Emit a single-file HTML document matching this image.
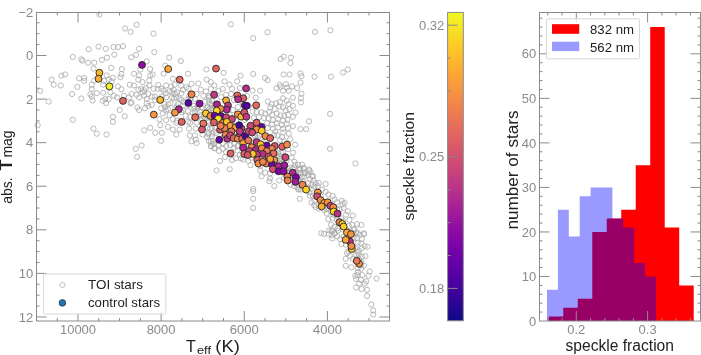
<!DOCTYPE html>
<html><head><meta charset="utf-8"><style>
html,body{margin:0;padding:0;background:#fff;}
svg{display:block;font-family:"Liberation Sans", sans-serif;will-change:transform;}
</style></head><body>
<svg width="701" height="355" viewBox="0 0 701 355">
<rect width="701" height="355" fill="#fff"/>
<g fill="none" stroke="#a8a8a8" stroke-width="0.8"><circle cx="88.7" cy="49.2" r="2.6"/><circle cx="72.8" cy="57.0" r="2.6"/><circle cx="81.3" cy="59.3" r="2.6"/><circle cx="82.5" cy="60.7" r="2.6"/><circle cx="88.1" cy="62.7" r="2.6"/><circle cx="94.3" cy="62.7" r="2.6"/><circle cx="93.5" cy="68.6" r="2.6"/><circle cx="99.4" cy="14.5" r="2.6"/><circle cx="136.6" cy="24.7" r="2.6"/><circle cx="125.1" cy="28.4" r="2.6"/><circle cx="130.6" cy="31.9" r="2.6"/><circle cx="153.5" cy="33.6" r="2.6"/><circle cx="98.5" cy="46.6" r="2.6"/><circle cx="105.8" cy="48.8" r="2.6"/><circle cx="113.4" cy="47.0" r="2.6"/><circle cx="118.0" cy="47.0" r="2.6"/><circle cx="123.0" cy="46.1" r="2.6"/><circle cx="139.1" cy="48.8" r="2.6"/><circle cx="154.3" cy="52.2" r="2.6"/><circle cx="136.1" cy="54.8" r="2.6"/><circle cx="131.2" cy="57.3" r="2.6"/><circle cx="114.3" cy="54.6" r="2.6"/><circle cx="107.0" cy="57.6" r="2.6"/><circle cx="101.9" cy="59.8" r="2.6"/><circle cx="146.7" cy="61.5" r="2.6"/><circle cx="111.2" cy="67.8" r="2.6"/><circle cx="121.9" cy="69.1" r="2.6"/><circle cx="150.1" cy="69.0" r="2.6"/><circle cx="140.3" cy="69.5" r="2.6"/><circle cx="169.2" cy="57.6" r="2.6"/><circle cx="180.8" cy="61.0" r="2.6"/><circle cx="165.3" cy="65.7" r="2.6"/><circle cx="206.4" cy="69.5" r="2.6"/><circle cx="230.9" cy="24.3" r="2.6"/><circle cx="267.5" cy="32.3" r="2.6"/><circle cx="253.2" cy="38.2" r="2.6"/><circle cx="314.9" cy="31.9" r="2.6"/><circle cx="330.4" cy="30.3" r="2.6"/><circle cx="280.7" cy="59.0" r="2.6"/><circle cx="283.6" cy="56.8" r="2.6"/><circle cx="290.9" cy="57.6" r="2.6"/><circle cx="290.4" cy="63.0" r="2.6"/><circle cx="347.8" cy="69.5" r="2.6"/><circle cx="61.4" cy="75.7" r="2.6"/><circle cx="65.1" cy="74.5" r="2.6"/><circle cx="51.7" cy="79.6" r="2.6"/><circle cx="53.7" cy="84.7" r="2.6"/><circle cx="60.8" cy="85.5" r="2.6"/><circle cx="40.2" cy="90.9" r="2.6"/><circle cx="48.7" cy="101.6" r="2.6"/><circle cx="72.0" cy="94.0" r="2.6"/><circle cx="81.3" cy="98.5" r="2.6"/><circle cx="77.4" cy="86.9" r="2.6"/><circle cx="79.1" cy="78.3" r="2.6"/><circle cx="84.2" cy="77.9" r="2.6"/><circle cx="84.2" cy="80.8" r="2.6"/><circle cx="91.8" cy="84.7" r="2.6"/><circle cx="91.8" cy="88.9" r="2.6"/><circle cx="90.4" cy="94.3" r="2.6"/><circle cx="91.8" cy="96.5" r="2.6"/><circle cx="92.6" cy="100.4" r="2.6"/><circle cx="94.3" cy="80.5" r="2.6"/><circle cx="72.8" cy="119.8" r="2.6"/><circle cx="37.7" cy="125.2" r="2.6"/><circle cx="93.5" cy="128.6" r="2.6"/><circle cx="106.6" cy="75.4" r="2.6"/><circle cx="112.9" cy="77.9" r="2.6"/><circle cx="108.7" cy="79.6" r="2.6"/><circle cx="104.0" cy="80.9" r="2.6"/><circle cx="103.2" cy="84.7" r="2.6"/><circle cx="111.6" cy="81.3" r="2.6"/><circle cx="121.4" cy="74.1" r="2.6"/><circle cx="120.5" cy="77.1" r="2.6"/><circle cx="118.0" cy="86.4" r="2.6"/><circle cx="121.4" cy="89.3" r="2.6"/><circle cx="103.2" cy="92.7" r="2.6"/><circle cx="96.8" cy="93.1" r="2.6"/><circle cx="110.4" cy="92.3" r="2.6"/><circle cx="113.8" cy="95.7" r="2.6"/><circle cx="117.1" cy="97.4" r="2.6"/><circle cx="105.3" cy="99.1" r="2.6"/><circle cx="108.7" cy="99.1" r="2.6"/><circle cx="123.9" cy="95.7" r="2.6"/><circle cx="134.0" cy="73.7" r="2.6"/><circle cx="139.1" cy="75.4" r="2.6"/><circle cx="138.3" cy="79.6" r="2.6"/><circle cx="142.5" cy="82.1" r="2.6"/><circle cx="150.1" cy="75.4" r="2.6"/><circle cx="152.6" cy="74.5" r="2.6"/><circle cx="149.2" cy="80.5" r="2.6"/><circle cx="129.8" cy="84.7" r="2.6"/><circle cx="134.0" cy="85.5" r="2.6"/><circle cx="145.9" cy="88.1" r="2.6"/><circle cx="153.5" cy="88.9" r="2.6"/><circle cx="138.3" cy="89.7" r="2.6"/><circle cx="142.5" cy="92.3" r="2.6"/><circle cx="131.5" cy="94.0" r="2.6"/><circle cx="129.0" cy="97.4" r="2.6"/><circle cx="136.6" cy="94.8" r="2.6"/><circle cx="139.1" cy="97.4" r="2.6"/><circle cx="144.2" cy="95.7" r="2.6"/><circle cx="148.4" cy="94.0" r="2.6"/><circle cx="151.8" cy="96.5" r="2.6"/><circle cx="146.7" cy="99.0" r="2.6"/><circle cx="155.2" cy="99.9" r="2.6"/><circle cx="102.8" cy="100.7" r="2.6"/><circle cx="106.1" cy="103.0" r="2.6"/><circle cx="131.5" cy="102.4" r="2.6"/><circle cx="119.7" cy="110.0" r="2.6"/><circle cx="124.7" cy="116.3" r="2.6"/><circle cx="112.9" cy="116.8" r="2.6"/><circle cx="112.9" cy="121.9" r="2.6"/><circle cx="137.4" cy="107.5" r="2.6"/><circle cx="139.1" cy="110.0" r="2.6"/><circle cx="146.7" cy="103.3" r="2.6"/><circle cx="148.4" cy="105.8" r="2.6"/><circle cx="145.0" cy="108.3" r="2.6"/><circle cx="151.8" cy="105.0" r="2.6"/><circle cx="130.6" cy="103.3" r="2.6"/><circle cx="150.1" cy="127.8" r="2.6"/><circle cx="144.2" cy="130.3" r="2.6"/><circle cx="163.6" cy="73.7" r="2.6"/><circle cx="172.9" cy="78.8" r="2.6"/><circle cx="188.1" cy="73.7" r="2.6"/><circle cx="206.7" cy="79.6" r="2.6"/><circle cx="210.9" cy="82.1" r="2.6"/><circle cx="191.5" cy="83.8" r="2.6"/><circle cx="198.3" cy="83.5" r="2.6"/><circle cx="157.7" cy="88.9" r="2.6"/><circle cx="166.1" cy="85.5" r="2.6"/><circle cx="171.2" cy="86.4" r="2.6"/><circle cx="174.6" cy="84.7" r="2.6"/><circle cx="186.4" cy="87.2" r="2.6"/><circle cx="163.6" cy="90.6" r="2.6"/><circle cx="169.5" cy="91.4" r="2.6"/><circle cx="177.1" cy="92.3" r="2.6"/><circle cx="181.4" cy="93.1" r="2.6"/><circle cx="183.0" cy="89.7" r="2.6"/><circle cx="200.8" cy="89.7" r="2.6"/><circle cx="205.9" cy="91.4" r="2.6"/><circle cx="210.9" cy="88.9" r="2.6"/><circle cx="214.3" cy="85.5" r="2.6"/><circle cx="196.6" cy="94.0" r="2.6"/><circle cx="203.3" cy="95.7" r="2.6"/><circle cx="209.2" cy="97.4" r="2.6"/><circle cx="166.1" cy="97.4" r="2.6"/><circle cx="172.1" cy="97.4" r="2.6"/><circle cx="176.3" cy="97.4" r="2.6"/><circle cx="181.4" cy="99.9" r="2.6"/><circle cx="194.9" cy="99.0" r="2.6"/><circle cx="205.0" cy="101.6" r="2.6"/><circle cx="210.1" cy="103.3" r="2.6"/><circle cx="164.5" cy="104.1" r="2.6"/><circle cx="170.4" cy="103.3" r="2.6"/><circle cx="178.0" cy="104.1" r="2.6"/><circle cx="183.0" cy="105.8" r="2.6"/><circle cx="194.0" cy="105.8" r="2.6"/><circle cx="201.6" cy="107.5" r="2.6"/><circle cx="206.7" cy="107.5" r="2.6"/><circle cx="211.8" cy="108.3" r="2.6"/><circle cx="161.1" cy="108.3" r="2.6"/><circle cx="167.8" cy="109.2" r="2.6"/><circle cx="188.1" cy="110.9" r="2.6"/><circle cx="194.9" cy="111.7" r="2.6"/><circle cx="199.9" cy="111.7" r="2.6"/><circle cx="162.8" cy="113.4" r="2.6"/><circle cx="169.5" cy="115.1" r="2.6"/><circle cx="185.6" cy="115.9" r="2.6"/><circle cx="190.6" cy="116.8" r="2.6"/><circle cx="159.4" cy="119.3" r="2.6"/><circle cx="166.1" cy="120.2" r="2.6"/><circle cx="172.9" cy="119.3" r="2.6"/><circle cx="176.3" cy="122.7" r="2.6"/><circle cx="188.1" cy="121.9" r="2.6"/><circle cx="196.6" cy="122.7" r="2.6"/><circle cx="208.4" cy="122.7" r="2.6"/><circle cx="160.2" cy="125.2" r="2.6"/><circle cx="167.8" cy="126.9" r="2.6"/><circle cx="172.9" cy="129.5" r="2.6"/><circle cx="189.0" cy="128.6" r="2.6"/><circle cx="195.7" cy="128.6" r="2.6"/><circle cx="210.1" cy="128.6" r="2.6"/><circle cx="179.7" cy="129.5" r="2.6"/><circle cx="223.6" cy="72.8" r="2.6"/><circle cx="240.5" cy="75.7" r="2.6"/><circle cx="253.2" cy="74.0" r="2.6"/><circle cx="265.0" cy="77.9" r="2.6"/><circle cx="267.5" cy="80.1" r="2.6"/><circle cx="224.5" cy="81.3" r="2.6"/><circle cx="229.5" cy="84.7" r="2.6"/><circle cx="237.1" cy="81.3" r="2.6"/><circle cx="218.5" cy="90.6" r="2.6"/><circle cx="222.8" cy="88.9" r="2.6"/><circle cx="232.1" cy="88.9" r="2.6"/><circle cx="226.1" cy="94.8" r="2.6"/><circle cx="283.6" cy="74.5" r="2.6"/><circle cx="289.5" cy="74.5" r="2.6"/><circle cx="300.5" cy="73.4" r="2.6"/><circle cx="301.4" cy="76.2" r="2.6"/><circle cx="314.5" cy="76.7" r="2.6"/><circle cx="330.9" cy="76.7" r="2.6"/><circle cx="300.5" cy="82.5" r="2.6"/><circle cx="279.7" cy="84.7" r="2.6"/><circle cx="286.1" cy="84.2" r="2.6"/><circle cx="292.1" cy="86.4" r="2.6"/><circle cx="297.1" cy="88.1" r="2.6"/><circle cx="301.4" cy="93.6" r="2.6"/><circle cx="301.0" cy="98.2" r="2.6"/><circle cx="301.0" cy="102.4" r="2.6"/><circle cx="292.9" cy="97.7" r="2.6"/><circle cx="292.9" cy="105.8" r="2.6"/><circle cx="295.4" cy="112.6" r="2.6"/><circle cx="292.9" cy="116.8" r="2.6"/><circle cx="292.9" cy="126.1" r="2.6"/><circle cx="330.1" cy="113.9" r="2.6"/><circle cx="309.0" cy="121.3" r="2.6"/><circle cx="300.5" cy="129.1" r="2.6"/><circle cx="306.1" cy="129.1" r="2.6"/><circle cx="343.0" cy="72.5" r="2.6"/><circle cx="209.0" cy="96.0" r="2.6"/><circle cx="212.0" cy="101.0" r="2.6"/><circle cx="221.0" cy="97.0" r="2.6"/><circle cx="231.0" cy="94.0" r="2.6"/><circle cx="234.0" cy="100.0" r="2.6"/><circle cx="243.0" cy="104.0" r="2.6"/><circle cx="208.0" cy="107.0" r="2.6"/><circle cx="213.0" cy="110.0" r="2.6"/><circle cx="223.0" cy="113.0" r="2.6"/><circle cx="233.0" cy="110.0" r="2.6"/><circle cx="238.0" cy="107.0" r="2.6"/><circle cx="208.0" cy="121.0" r="2.6"/><circle cx="218.0" cy="124.0" r="2.6"/><circle cx="230.0" cy="115.0" r="2.6"/><circle cx="236.0" cy="121.0" r="2.6"/><circle cx="245.0" cy="120.0" r="2.6"/><circle cx="212.0" cy="128.0" r="2.6"/><circle cx="228.0" cy="130.0" r="2.6"/><circle cx="246.0" cy="131.0" r="2.6"/><circle cx="249.0" cy="106.0" r="2.6"/><circle cx="240.0" cy="88.0" r="2.6"/><circle cx="247.0" cy="96.0" r="2.6"/><circle cx="96.8" cy="133.7" r="2.6"/><circle cx="106.5" cy="134.5" r="2.6"/><circle cx="141.6" cy="145.5" r="2.6"/><circle cx="135.7" cy="148.9" r="2.6"/><circle cx="137.1" cy="156.8" r="2.6"/><circle cx="155.2" cy="132.8" r="2.6"/><circle cx="161.9" cy="132.8" r="2.6"/><circle cx="161.1" cy="140.8" r="2.6"/><circle cx="176.3" cy="134.5" r="2.6"/><circle cx="189.8" cy="135.4" r="2.6"/><circle cx="194.9" cy="135.4" r="2.6"/><circle cx="195.7" cy="139.6" r="2.6"/><circle cx="191.5" cy="141.3" r="2.6"/><circle cx="196.6" cy="143.0" r="2.6"/><circle cx="202.5" cy="134.5" r="2.6"/><circle cx="208.4" cy="134.5" r="2.6"/><circle cx="211.8" cy="136.2" r="2.6"/><circle cx="210.9" cy="141.3" r="2.6"/><circle cx="212.6" cy="143.8" r="2.6"/><circle cx="210.9" cy="146.4" r="2.6"/><circle cx="214.3" cy="148.1" r="2.6"/><circle cx="216.6" cy="170.4" r="2.6"/><circle cx="208.3" cy="133.1" r="2.6"/><circle cx="212.2" cy="133.6" r="2.6"/><circle cx="212.8" cy="141.0" r="2.6"/><circle cx="211.1" cy="146.0" r="2.6"/><circle cx="215.0" cy="148.3" r="2.6"/><circle cx="214.5" cy="143.8" r="2.6"/><circle cx="218.4" cy="144.9" r="2.6"/><circle cx="222.9" cy="143.2" r="2.6"/><circle cx="222.9" cy="148.8" r="2.6"/><circle cx="226.3" cy="146.0" r="2.6"/><circle cx="230.2" cy="144.9" r="2.6"/><circle cx="234.2" cy="143.8" r="2.6"/><circle cx="234.2" cy="147.7" r="2.6"/><circle cx="237.5" cy="146.0" r="2.6"/><circle cx="237.5" cy="150.5" r="2.6"/><circle cx="239.8" cy="155.0" r="2.6"/><circle cx="235.9" cy="158.4" r="2.6"/><circle cx="240.9" cy="158.4" r="2.6"/><circle cx="243.2" cy="159.5" r="2.6"/><circle cx="229.7" cy="169.2" r="2.6"/><circle cx="207.1" cy="137.0" r="2.6"/><circle cx="216.1" cy="133.1" r="2.6"/><circle cx="208.8" cy="141.0" r="2.6"/><circle cx="219.0" cy="151.0" r="2.6"/><circle cx="226.0" cy="152.0" r="2.6"/><circle cx="232.0" cy="160.0" r="2.6"/><circle cx="225.0" cy="157.0" r="2.6"/><circle cx="220.0" cy="161.0" r="2.6"/><circle cx="275.3" cy="131.4" r="2.6"/><circle cx="283.2" cy="132.5" r="2.6"/><circle cx="277.5" cy="135.3" r="2.6"/><circle cx="282.1" cy="137.0" r="2.6"/><circle cx="274.2" cy="134.8" r="2.6"/><circle cx="279.8" cy="140.4" r="2.6"/><circle cx="284.3" cy="141.5" r="2.6"/><circle cx="255.0" cy="135.9" r="2.6"/><circle cx="259.5" cy="134.8" r="2.6"/><circle cx="281.5" cy="152.8" r="2.6"/><circle cx="279.8" cy="159.0" r="2.6"/><circle cx="283.7" cy="159.5" r="2.6"/><circle cx="283.2" cy="152.2" r="2.6"/><circle cx="248.3" cy="160.7" r="2.6"/><circle cx="250.5" cy="165.2" r="2.6"/><circle cx="295.2" cy="144.6" r="2.6"/><circle cx="330.0" cy="148.8" r="2.6"/><circle cx="288.8" cy="133.6" r="2.6"/><circle cx="290.2" cy="139.3" r="2.6"/><circle cx="288.1" cy="149.1" r="2.6"/><circle cx="293.0" cy="152.6" r="2.6"/><circle cx="291.6" cy="157.6" r="2.6"/><circle cx="294.5" cy="161.8" r="2.6"/><circle cx="298.0" cy="164.6" r="2.6"/><circle cx="302.2" cy="164.6" r="2.6"/><circle cx="303.6" cy="168.8" r="2.6"/><circle cx="309.2" cy="169.5" r="2.6"/><circle cx="310.6" cy="172.4" r="2.6"/><circle cx="305.7" cy="173.1" r="2.6"/><circle cx="300.1" cy="173.1" r="2.6"/><circle cx="312.1" cy="175.9" r="2.6"/><circle cx="304.3" cy="176.6" r="2.6"/><circle cx="298.7" cy="168.8" r="2.6"/><circle cx="355.4" cy="163.5" r="2.6"/><circle cx="253.2" cy="188.9" r="2.6"/><circle cx="253.2" cy="191.1" r="2.6"/><circle cx="253.2" cy="198.8" r="2.6"/><circle cx="253.2" cy="208.0" r="2.6"/><circle cx="260.2" cy="170.6" r="2.6"/><circle cx="265.2" cy="172.7" r="2.6"/><circle cx="270.1" cy="173.5" r="2.6"/><circle cx="270.1" cy="178.4" r="2.6"/><circle cx="269.4" cy="181.2" r="2.6"/><circle cx="279.2" cy="180.5" r="2.6"/><circle cx="274.3" cy="186.1" r="2.6"/><circle cx="290.5" cy="184.7" r="2.6"/><circle cx="294.0" cy="186.1" r="2.6"/><circle cx="298.3" cy="189.6" r="2.6"/><circle cx="299.7" cy="198.8" r="2.6"/><circle cx="261.6" cy="176.3" r="2.6"/><circle cx="299.7" cy="169.9" r="2.6"/><circle cx="303.2" cy="173.5" r="2.6"/><circle cx="298.3" cy="176.3" r="2.6"/><circle cx="299.7" cy="181.2" r="2.6"/><circle cx="290.5" cy="179.8" r="2.6"/><circle cx="284.2" cy="177.7" r="2.6"/><circle cx="300.2" cy="168.5" r="2.6"/><circle cx="303.7" cy="167.8" r="2.6"/><circle cx="309.4" cy="170.6" r="2.6"/><circle cx="304.5" cy="172.7" r="2.6"/><circle cx="308.0" cy="174.9" r="2.6"/><circle cx="312.9" cy="176.3" r="2.6"/><circle cx="310.1" cy="179.1" r="2.6"/><circle cx="313.6" cy="180.5" r="2.6"/><circle cx="315.7" cy="183.3" r="2.6"/><circle cx="311.5" cy="184.7" r="2.6"/><circle cx="317.8" cy="186.1" r="2.6"/><circle cx="325.6" cy="184.0" r="2.6"/><circle cx="298.8" cy="188.9" r="2.6"/><circle cx="311.5" cy="188.9" r="2.6"/><circle cx="309.4" cy="192.5" r="2.6"/><circle cx="322.1" cy="189.6" r="2.6"/><circle cx="325.6" cy="191.8" r="2.6"/><circle cx="328.4" cy="194.6" r="2.6"/><circle cx="332.6" cy="196.0" r="2.6"/><circle cx="334.7" cy="199.5" r="2.6"/><circle cx="336.8" cy="202.3" r="2.6"/><circle cx="341.8" cy="200.9" r="2.6"/><circle cx="342.5" cy="204.4" r="2.6"/><circle cx="312.9" cy="196.0" r="2.6"/><circle cx="311.5" cy="202.3" r="2.6"/><circle cx="314.3" cy="205.1" r="2.6"/><circle cx="324.2" cy="210.1" r="2.6"/><circle cx="328.4" cy="208.7" r="2.6"/><circle cx="339.7" cy="209.4" r="2.6"/><circle cx="344.5" cy="202.9" r="2.6"/><circle cx="343.6" cy="208.0" r="2.6"/><circle cx="347.8" cy="211.3" r="2.6"/><circle cx="346.1" cy="214.7" r="2.6"/><circle cx="352.9" cy="215.6" r="2.6"/><circle cx="349.5" cy="219.8" r="2.6"/><circle cx="352.1" cy="224.9" r="2.6"/><circle cx="357.1" cy="224.0" r="2.6"/><circle cx="361.4" cy="224.9" r="2.6"/><circle cx="354.6" cy="229.1" r="2.6"/><circle cx="363.9" cy="233.3" r="2.6"/><circle cx="358.0" cy="233.3" r="2.6"/><circle cx="337.7" cy="228.2" r="2.6"/><circle cx="331.6" cy="230.6" r="2.6"/><circle cx="328.8" cy="234.2" r="2.6"/><circle cx="334.5" cy="233.5" r="2.6"/><circle cx="338.0" cy="230.6" r="2.6"/><circle cx="332.3" cy="238.4" r="2.6"/><circle cx="337.3" cy="236.3" r="2.6"/><circle cx="340.1" cy="239.1" r="2.6"/><circle cx="341.5" cy="244.0" r="2.6"/><circle cx="345.7" cy="244.7" r="2.6"/><circle cx="353.5" cy="229.9" r="2.6"/><circle cx="356.3" cy="232.7" r="2.6"/><circle cx="359.8" cy="234.9" r="2.6"/><circle cx="364.0" cy="234.2" r="2.6"/><circle cx="361.9" cy="239.1" r="2.6"/><circle cx="357.0" cy="238.4" r="2.6"/><circle cx="357.7" cy="242.6" r="2.6"/><circle cx="361.2" cy="243.3" r="2.6"/><circle cx="364.7" cy="246.1" r="2.6"/><circle cx="367.5" cy="246.8" r="2.6"/><circle cx="355.6" cy="248.2" r="2.6"/><circle cx="357.7" cy="252.5" r="2.6"/><circle cx="347.1" cy="253.2" r="2.6"/><circle cx="349.9" cy="256.0" r="2.6"/><circle cx="352.8" cy="258.8" r="2.6"/><circle cx="345.7" cy="258.8" r="2.6"/><circle cx="361.9" cy="256.7" r="2.6"/><circle cx="345.7" cy="265.8" r="2.6"/><circle cx="351.4" cy="267.3" r="2.6"/><circle cx="361.2" cy="268.7" r="2.6"/><circle cx="364.0" cy="265.8" r="2.6"/><circle cx="369.7" cy="271.5" r="2.6"/><circle cx="357.7" cy="272.2" r="2.6"/><circle cx="357.7" cy="268.1" r="2.6"/><circle cx="368.5" cy="275.8" r="2.6"/><circle cx="376.6" cy="278.6" r="2.6"/><circle cx="355.4" cy="275.8" r="2.6"/><circle cx="357.7" cy="275.1" r="2.6"/><circle cx="362.3" cy="275.1" r="2.6"/><circle cx="356.1" cy="278.9" r="2.6"/><circle cx="360.8" cy="279.7" r="2.6"/><circle cx="366.2" cy="281.3" r="2.6"/><circle cx="359.2" cy="283.6" r="2.6"/><circle cx="364.7" cy="283.6" r="2.6"/><circle cx="356.1" cy="287.5" r="2.6"/><circle cx="361.6" cy="289.0" r="2.6"/><circle cx="367.0" cy="289.8" r="2.6"/><circle cx="367.0" cy="296.0" r="2.6"/><circle cx="371.3" cy="304.5" r="2.6"/><circle cx="373.2" cy="310.4" r="2.6"/><circle cx="373.2" cy="314.6" r="2.6"/><circle cx="326.8" cy="213.5" r="2.6"/><circle cx="328.3" cy="219.1" r="2.6"/><circle cx="332.5" cy="218.4" r="2.6"/><circle cx="331.1" cy="224.7" r="2.6"/><circle cx="334.6" cy="226.8" r="2.6"/><circle cx="329.0" cy="230.4" r="2.6"/><circle cx="332.5" cy="231.1" r="2.6"/><circle cx="321.2" cy="233.2" r="2.6"/><circle cx="324.0" cy="233.9" r="2.6"/><circle cx="331.8" cy="235.3" r="2.6"/><circle cx="334.6" cy="233.2" r="2.6"/><circle cx="276.7" cy="88.2" r="2.6"/><circle cx="280.5" cy="86.9" r="2.6"/><circle cx="283.0" cy="90.7" r="2.6"/><circle cx="286.8" cy="87.5" r="2.6"/><circle cx="288.7" cy="90.7" r="2.6"/><circle cx="260.2" cy="90.7" r="2.6"/><circle cx="252.6" cy="90.7" r="2.6"/><circle cx="255.8" cy="97.7" r="2.6"/><circle cx="267.8" cy="101.5" r="2.6"/><circle cx="271.6" cy="104.0" r="2.6"/><circle cx="276.0" cy="103.4" r="2.6"/><circle cx="279.9" cy="102.1" r="2.6"/><circle cx="283.0" cy="98.3" r="2.6"/><circle cx="286.8" cy="100.8" r="2.6"/><circle cx="288.7" cy="104.0" r="2.6"/><circle cx="270.3" cy="107.2" r="2.6"/><circle cx="274.8" cy="109.1" r="2.6"/><circle cx="279.2" cy="106.5" r="2.6"/><circle cx="283.0" cy="107.2" r="2.6"/><circle cx="285.6" cy="110.3" r="2.6"/><circle cx="289.4" cy="109.1" r="2.6"/><circle cx="252.6" cy="111.6" r="2.6"/><circle cx="256.4" cy="112.2" r="2.6"/><circle cx="261.5" cy="112.2" r="2.6"/><circle cx="265.3" cy="113.5" r="2.6"/><circle cx="269.1" cy="112.2" r="2.6"/><circle cx="272.2" cy="114.8" r="2.6"/><circle cx="276.7" cy="113.5" r="2.6"/><circle cx="280.5" cy="115.4" r="2.6"/><circle cx="284.3" cy="116.0" r="2.6"/><circle cx="288.1" cy="114.8" r="2.6"/><circle cx="253.9" cy="118.0" r="2.6"/><circle cx="258.9" cy="117.3" r="2.6"/><circle cx="264.0" cy="118.0" r="2.6"/><circle cx="268.4" cy="118.6" r="2.6"/><circle cx="272.9" cy="119.9" r="2.6"/><circle cx="278.0" cy="119.2" r="2.6"/><circle cx="283.0" cy="120.5" r="2.6"/><circle cx="287.5" cy="119.9" r="2.6"/><circle cx="267.2" cy="123.0" r="2.6"/><circle cx="272.2" cy="124.3" r="2.6"/><circle cx="276.7" cy="123.0" r="2.6"/><circle cx="281.8" cy="124.9" r="2.6"/><circle cx="286.8" cy="123.7" r="2.6"/><circle cx="267.8" cy="128.1" r="2.6"/><circle cx="272.9" cy="128.7" r="2.6"/><circle cx="278.0" cy="127.5" r="2.6"/><circle cx="283.0" cy="128.7" r="2.6"/><circle cx="288.1" cy="128.1" r="2.6"/><circle cx="155.0" cy="96.6" r="2.6"/><circle cx="161.3" cy="88.7" r="2.6"/><circle cx="149.4" cy="85.3" r="2.6"/><circle cx="165.9" cy="93.3" r="2.6"/><circle cx="158.2" cy="84.9" r="2.6"/><circle cx="141.2" cy="89.1" r="2.6"/><circle cx="144.1" cy="90.3" r="2.6"/><circle cx="161.9" cy="96.7" r="2.6"/><circle cx="194.4" cy="108.6" r="2.6"/><circle cx="190.1" cy="122.9" r="2.6"/><circle cx="189.2" cy="95.9" r="2.6"/><circle cx="177.0" cy="106.4" r="2.6"/><circle cx="168.3" cy="104.2" r="2.6"/><circle cx="187.5" cy="99.7" r="2.6"/><circle cx="188.6" cy="101.9" r="2.6"/><circle cx="173.7" cy="89.9" r="2.6"/><circle cx="173.9" cy="98.6" r="2.6"/><circle cx="165.1" cy="107.1" r="2.6"/><circle cx="174.8" cy="93.7" r="2.6"/><circle cx="181.1" cy="85.8" r="2.6"/><circle cx="188.4" cy="104.9" r="2.6"/><circle cx="192.7" cy="113.0" r="2.6"/><circle cx="197.6" cy="106.1" r="2.6"/><circle cx="165.8" cy="110.6" r="2.6"/><circle cx="179.4" cy="98.5" r="2.6"/><circle cx="181.3" cy="112.0" r="2.6"/><circle cx="190.5" cy="98.9" r="2.6"/><circle cx="177.1" cy="120.6" r="2.6"/><circle cx="183.7" cy="102.2" r="2.6"/><circle cx="197.9" cy="108.6" r="2.6"/><circle cx="172.2" cy="92.2" r="2.6"/><circle cx="188.5" cy="88.7" r="2.6"/><circle cx="175.3" cy="108.1" r="2.6"/><circle cx="182.9" cy="110.2" r="2.6"/><circle cx="214.5" cy="106.0" r="2.6"/><circle cx="207.6" cy="127.5" r="2.6"/><circle cx="216.5" cy="118.7" r="2.6"/><circle cx="230.5" cy="122.5" r="2.6"/><circle cx="219.5" cy="118.4" r="2.6"/><circle cx="232.4" cy="121.3" r="2.6"/><circle cx="213.5" cy="117.7" r="2.6"/><circle cx="225.4" cy="124.3" r="2.6"/><circle cx="221.5" cy="124.4" r="2.6"/><circle cx="211.2" cy="114.8" r="2.6"/><circle cx="209.4" cy="109.0" r="2.6"/><circle cx="223.9" cy="128.7" r="2.6"/><circle cx="220.2" cy="110.9" r="2.6"/><circle cx="222.2" cy="119.5" r="2.6"/><circle cx="226.1" cy="133.3" r="2.6"/><circle cx="203.6" cy="116.5" r="2.6"/><circle cx="229.0" cy="119.4" r="2.6"/><circle cx="204.7" cy="119.2" r="2.6"/><circle cx="213.9" cy="132.0" r="2.6"/><circle cx="202.2" cy="119.2" r="2.6"/><circle cx="197.5" cy="116.4" r="2.6"/><circle cx="223.3" cy="137.4" r="2.6"/><circle cx="208.7" cy="100.3" r="2.6"/><circle cx="215.5" cy="127.4" r="2.6"/><circle cx="218.0" cy="103.4" r="2.6"/><circle cx="223.7" cy="126.2" r="2.6"/><circle cx="212.2" cy="104.5" r="2.6"/><circle cx="222.9" cy="117.1" r="2.6"/><circle cx="200.8" cy="115.1" r="2.6"/><circle cx="226.6" cy="122.3" r="2.6"/><circle cx="225.1" cy="119.3" r="2.6"/><circle cx="211.1" cy="118.1" r="2.6"/><circle cx="246.1" cy="148.9" r="2.6"/><circle cx="248.9" cy="126.2" r="2.6"/><circle cx="252.7" cy="131.0" r="2.6"/><circle cx="239.8" cy="131.3" r="2.6"/><circle cx="256.3" cy="139.4" r="2.6"/><circle cx="252.7" cy="145.5" r="2.6"/><circle cx="233.9" cy="132.9" r="2.6"/><circle cx="230.4" cy="134.6" r="2.6"/><circle cx="241.7" cy="129.9" r="2.6"/><circle cx="257.1" cy="143.4" r="2.6"/><circle cx="240.1" cy="127.0" r="2.6"/><circle cx="256.5" cy="147.6" r="2.6"/><circle cx="245.8" cy="152.6" r="2.6"/><circle cx="253.3" cy="142.3" r="2.6"/><circle cx="253.6" cy="148.3" r="2.6"/><circle cx="240.3" cy="138.7" r="2.6"/><circle cx="245.3" cy="140.8" r="2.6"/><circle cx="236.7" cy="132.4" r="2.6"/><circle cx="242.1" cy="146.7" r="2.6"/><circle cx="257.0" cy="154.4" r="2.6"/><circle cx="243.5" cy="138.6" r="2.6"/><circle cx="244.8" cy="135.2" r="2.6"/><circle cx="242.4" cy="136.6" r="2.6"/><circle cx="257.9" cy="137.6" r="2.6"/><circle cx="237.5" cy="128.4" r="2.6"/><circle cx="238.6" cy="125.1" r="2.6"/><circle cx="260.6" cy="148.3" r="2.6"/><circle cx="251.2" cy="157.7" r="2.6"/><circle cx="226.2" cy="139.4" r="2.6"/><circle cx="254.9" cy="150.4" r="2.6"/><circle cx="246.2" cy="137.1" r="2.6"/><circle cx="250.8" cy="142.4" r="2.6"/><circle cx="247.8" cy="154.7" r="2.6"/><circle cx="262.6" cy="142.3" r="2.6"/><circle cx="282.1" cy="172.1" r="2.6"/><circle cx="278.2" cy="153.2" r="2.6"/><circle cx="285.0" cy="165.7" r="2.6"/><circle cx="260.4" cy="165.7" r="2.6"/><circle cx="264.3" cy="148.0" r="2.6"/><circle cx="271.8" cy="159.1" r="2.6"/><circle cx="277.9" cy="171.2" r="2.6"/><circle cx="279.9" cy="162.8" r="2.6"/><circle cx="264.6" cy="152.8" r="2.6"/><circle cx="279.6" cy="156.1" r="2.6"/><circle cx="284.0" cy="168.0" r="2.6"/><circle cx="269.6" cy="164.4" r="2.6"/><circle cx="278.9" cy="167.6" r="2.6"/><circle cx="268.2" cy="162.0" r="2.6"/><circle cx="283.4" cy="156.3" r="2.6"/><circle cx="266.4" cy="159.2" r="2.6"/><circle cx="275.7" cy="151.3" r="2.6"/><circle cx="258.5" cy="156.3" r="2.6"/><circle cx="277.3" cy="156.9" r="2.6"/><circle cx="277.5" cy="160.5" r="2.6"/><circle cx="262.9" cy="150.2" r="2.6"/><circle cx="269.9" cy="149.0" r="2.6"/><circle cx="281.8" cy="164.1" r="2.6"/><circle cx="273.1" cy="153.1" r="2.6"/><circle cx="278.7" cy="165.3" r="2.6"/><circle cx="286.3" cy="161.2" r="2.6"/><circle cx="275.7" cy="165.1" r="2.6"/><circle cx="272.9" cy="155.4" r="2.6"/><circle cx="269.8" cy="152.7" r="2.6"/><circle cx="266.5" cy="155.5" r="2.6"/><circle cx="289.9" cy="167.6" r="2.6"/><circle cx="287.7" cy="176.8" r="2.6"/><circle cx="308.4" cy="183.2" r="2.6"/><circle cx="301.8" cy="177.0" r="2.6"/><circle cx="296.1" cy="172.3" r="2.6"/><circle cx="297.1" cy="179.3" r="2.6"/><circle cx="297.1" cy="187.3" r="2.6"/><circle cx="292.8" cy="175.9" r="2.6"/><circle cx="290.2" cy="173.5" r="2.6"/><circle cx="303.0" cy="181.2" r="2.6"/><circle cx="304.2" cy="185.3" r="2.6"/><circle cx="294.9" cy="164.9" r="2.6"/><circle cx="300.6" cy="183.3" r="2.6"/><circle cx="289.7" cy="171.1" r="2.6"/><circle cx="287.3" cy="168.4" r="2.6"/><circle cx="292.8" cy="168.7" r="2.6"/><circle cx="284.9" cy="170.9" r="2.6"/><circle cx="294.6" cy="167.4" r="2.6"/><circle cx="294.4" cy="179.0" r="2.6"/><circle cx="304.3" cy="187.7" r="2.6"/><circle cx="308.8" cy="187.6" r="2.6"/><circle cx="301.0" cy="189.6" r="2.6"/><circle cx="333.2" cy="214.5" r="2.6"/><circle cx="310.0" cy="195.7" r="2.6"/><circle cx="318.7" cy="183.0" r="2.6"/><circle cx="337.0" cy="208.8" r="2.6"/><circle cx="327.1" cy="203.5" r="2.6"/><circle cx="328.0" cy="205.9" r="2.6"/><circle cx="318.7" cy="198.1" r="2.6"/><circle cx="314.4" cy="186.6" r="2.6"/><circle cx="326.1" cy="208.6" r="2.6"/><circle cx="331.0" cy="211.6" r="2.6"/><circle cx="320.7" cy="196.1" r="2.6"/><circle cx="314.4" cy="200.8" r="2.6"/><circle cx="334.1" cy="212.3" r="2.6"/><circle cx="317.2" cy="195.0" r="2.6"/><circle cx="332.4" cy="207.6" r="2.6"/><circle cx="321.3" cy="204.5" r="2.6"/><circle cx="318.8" cy="208.7" r="2.6"/><circle cx="315.6" cy="207.1" r="2.6"/><circle cx="341.0" cy="223.7" r="2.6"/><circle cx="343.8" cy="236.7" r="2.6"/><circle cx="349.5" cy="235.6" r="2.6"/><circle cx="353.6" cy="233.5" r="2.6"/><circle cx="348.9" cy="226.0" r="2.6"/><circle cx="342.5" cy="229.4" r="2.6"/><circle cx="340.1" cy="221.1" r="2.6"/><circle cx="341.3" cy="218.3" r="2.6"/><circle cx="347.8" cy="238.5" r="2.6"/><circle cx="343.3" cy="221.3" r="2.6"/><circle cx="346.2" cy="229.5" r="2.6"/><circle cx="336.8" cy="219.2" r="2.6"/><circle cx="342.8" cy="225.8" r="2.6"/><circle cx="353.6" cy="237.8" r="2.6"/><circle cx="337.7" cy="216.7" r="2.6"/><circle cx="350.9" cy="232.4" r="2.6"/><circle cx="359.1" cy="259.3" r="2.6"/><circle cx="356.8" cy="259.3" r="2.6"/><circle cx="348.3" cy="251.3" r="2.6"/><circle cx="361.0" cy="265.3" r="2.6"/><circle cx="358.9" cy="254.8" r="2.6"/><circle cx="356.1" cy="254.7" r="2.6"/><circle cx="361.2" cy="261.8" r="2.6"/><circle cx="350.4" cy="249.2" r="2.6"/><circle cx="358.9" cy="250.6" r="2.6"/><circle cx="353.2" cy="246.7" r="2.6"/><circle cx="361.5" cy="248.4" r="2.6"/><circle cx="365.4" cy="256.2" r="2.6"/></g>
<g stroke="#262626" stroke-width="0.9"><circle cx="142.0" cy="64.9" r="3.45" fill="#8f0da4"/><circle cx="168.2" cy="69.0" r="3.45" fill="#fca636"/><circle cx="216.0" cy="68.6" r="3.45" fill="#e16462"/><circle cx="99.4" cy="72.8" r="3.45" fill="#feb72d"/><circle cx="98.5" cy="78.8" r="3.45" fill="#fdae32"/><circle cx="109.4" cy="86.4" r="3.45" fill="#f3f027"/><circle cx="123.0" cy="100.9" r="3.45" fill="#e16462"/><circle cx="153.8" cy="114.6" r="3.45" fill="#f89540"/><circle cx="179.7" cy="79.6" r="3.45" fill="#e56a5d"/><circle cx="191.5" cy="94.3" r="3.45" fill="#f2844b"/><circle cx="160.2" cy="99.9" r="3.45" fill="#feba2c"/><circle cx="188.4" cy="102.9" r="3.45" fill="#5601a4"/><circle cx="199.6" cy="103.6" r="3.45" fill="#8f0da4"/><circle cx="178.8" cy="109.2" r="3.45" fill="#b12a90"/><circle cx="174.9" cy="112.6" r="3.45" fill="#f89540"/><circle cx="195.2" cy="117.3" r="3.45" fill="#e56a5d"/><circle cx="205.9" cy="113.4" r="3.45" fill="#fcce25"/><circle cx="210.4" cy="116.0" r="3.45" fill="#f58b47"/><circle cx="181.7" cy="121.9" r="3.45" fill="#e16462"/><circle cx="203.3" cy="123.5" r="3.45" fill="#ea7457"/><circle cx="202.0" cy="129.5" r="3.45" fill="#d6556d"/><circle cx="214.1" cy="94.8" r="3.45" fill="#bf3984"/><circle cx="237.3" cy="95.4" r="3.45" fill="#e56a5d"/><circle cx="243.2" cy="98.2" r="3.45" fill="#dd5e66"/><circle cx="238.1" cy="99.3" r="3.45" fill="#b6308b"/><circle cx="226.1" cy="100.5" r="3.45" fill="#fdae32"/><circle cx="216.9" cy="104.4" r="3.45" fill="#ab2494"/><circle cx="228.0" cy="105.5" r="3.45" fill="#bf3984"/><circle cx="226.8" cy="109.5" r="3.45" fill="#b12a90"/><circle cx="220.6" cy="108.9" r="3.45" fill="#f58b47"/><circle cx="216.7" cy="110.6" r="3.45" fill="#fbd724"/><circle cx="214.5" cy="115.7" r="3.45" fill="#6a00a8"/><circle cx="221.2" cy="116.2" r="3.45" fill="#7201a8"/><circle cx="218.2" cy="118.7" r="3.45" fill="#f7e425"/><circle cx="226.3" cy="117.4" r="3.45" fill="#d04d73"/><circle cx="231.9" cy="119.0" r="3.45" fill="#cc4778"/><circle cx="237.9" cy="114.3" r="3.45" fill="#f89540"/><circle cx="241.2" cy="116.6" r="3.45" fill="#feba2c"/><circle cx="244.3" cy="112.3" r="3.45" fill="#d6556d"/><circle cx="213.9" cy="122.4" r="3.45" fill="#dd5e66"/><circle cx="222.7" cy="123.0" r="3.45" fill="#f2844b"/><circle cx="226.8" cy="121.9" r="3.45" fill="#fdc627"/><circle cx="230.2" cy="125.8" r="3.45" fill="#fb9f3a"/><circle cx="235.5" cy="127.5" r="3.45" fill="#fb9f3a"/><circle cx="241.5" cy="128.6" r="3.45" fill="#cc4778"/><circle cx="239.2" cy="125.2" r="3.45" fill="#41049d"/><circle cx="244.9" cy="105.5" r="3.45" fill="#6a00a8"/><circle cx="220.1" cy="129.7" r="3.45" fill="#d6556d"/><circle cx="224.6" cy="128.1" r="3.45" fill="#f2844b"/><circle cx="220.6" cy="125.8" r="3.45" fill="#ef7e50"/><circle cx="246.1" cy="88.4" r="3.45" fill="#b6308b"/><circle cx="246.8" cy="105.8" r="3.45" fill="#5601a4"/><circle cx="256.2" cy="105.3" r="3.45" fill="#e56a5d"/><circle cx="246.4" cy="116.8" r="3.45" fill="#bf3984"/><circle cx="256.6" cy="122.7" r="3.45" fill="#e16462"/><circle cx="250.6" cy="125.7" r="3.45" fill="#cc4778"/><circle cx="261.6" cy="126.9" r="3.45" fill="#6a00a8"/><circle cx="256.6" cy="129.5" r="3.45" fill="#f89540"/><circle cx="231.4" cy="131.4" r="3.45" fill="#ea7457"/><circle cx="225.7" cy="134.8" r="3.45" fill="#f58b47"/><circle cx="227.4" cy="138.7" r="3.45" fill="#b6308b"/><circle cx="219.3" cy="139.8" r="3.45" fill="#6a00a8"/><circle cx="230.2" cy="135.3" r="3.45" fill="#cc4778"/><circle cx="233.6" cy="138.1" r="3.45" fill="#e16462"/><circle cx="237.9" cy="138.7" r="3.45" fill="#f58b47"/><circle cx="239.8" cy="133.6" r="3.45" fill="#d6556d"/><circle cx="242.1" cy="138.7" r="3.45" fill="#e56a5d"/><circle cx="239.8" cy="131.4" r="3.45" fill="#bf3984"/><circle cx="245.4" cy="135.9" r="3.45" fill="#4903a0"/><circle cx="243.2" cy="143.2" r="3.45" fill="#fca636"/><circle cx="243.2" cy="147.7" r="3.45" fill="#ab2494"/><circle cx="230.6" cy="153.4" r="3.45" fill="#e16462"/><circle cx="244.3" cy="153.9" r="3.45" fill="#e16462"/><circle cx="248.8" cy="131.4" r="3.45" fill="#cc4778"/><circle cx="252.2" cy="132.5" r="3.45" fill="#cc4778"/><circle cx="261.8" cy="130.8" r="3.45" fill="#fcce25"/><circle cx="265.4" cy="136.1" r="3.45" fill="#f58b47"/><circle cx="270.2" cy="138.1" r="3.45" fill="#e16462"/><circle cx="248.3" cy="140.4" r="3.45" fill="#ea7457"/><circle cx="256.7" cy="142.1" r="3.45" fill="#bf3984"/><circle cx="266.8" cy="145.5" r="3.45" fill="#6300a7"/><circle cx="260.6" cy="144.3" r="3.45" fill="#fdc627"/><circle cx="274.7" cy="146.0" r="3.45" fill="#d6556d"/><circle cx="282.1" cy="146.6" r="3.45" fill="#e16462"/><circle cx="251.6" cy="147.2" r="3.45" fill="#f58b47"/><circle cx="261.8" cy="148.3" r="3.45" fill="#f58b47"/><circle cx="255.6" cy="150.0" r="3.45" fill="#b12a90"/><circle cx="271.9" cy="148.8" r="3.45" fill="#f2844b"/><circle cx="266.8" cy="151.1" r="3.45" fill="#ef7e50"/><circle cx="273.6" cy="153.4" r="3.45" fill="#e56a5d"/><circle cx="262.9" cy="153.9" r="3.45" fill="#b6308b"/><circle cx="256.7" cy="154.5" r="3.45" fill="#c6417d"/><circle cx="249.4" cy="151.1" r="3.45" fill="#cc4778"/><circle cx="252.8" cy="153.9" r="3.45" fill="#fcce25"/><circle cx="247.7" cy="155.0" r="3.45" fill="#d6556d"/><circle cx="268.5" cy="156.7" r="3.45" fill="#d04d73"/><circle cx="274.2" cy="160.1" r="3.45" fill="#f89540"/><circle cx="257.3" cy="160.1" r="3.45" fill="#e16462"/><circle cx="258.4" cy="163.5" r="3.45" fill="#f58b47"/><circle cx="266.3" cy="163.5" r="3.45" fill="#ef7e50"/><circle cx="262.9" cy="161.8" r="3.45" fill="#f2844b"/><circle cx="271.9" cy="164.1" r="3.45" fill="#7201a8"/><circle cx="278.7" cy="166.3" r="3.45" fill="#b12a90"/><circle cx="284.3" cy="165.2" r="3.45" fill="#a11b9b"/><circle cx="270.2" cy="159.0" r="3.45" fill="#fca636"/><circle cx="285.4" cy="157.3" r="3.45" fill="#cc4778"/><circle cx="287.0" cy="144.6" r="3.45" fill="#f58b47"/><circle cx="292.8" cy="172.8" r="3.45" fill="#b12a90"/><circle cx="295.9" cy="177.3" r="3.45" fill="#7e03a8"/><circle cx="287.4" cy="176.6" r="3.45" fill="#f2844b"/><circle cx="272.9" cy="169.2" r="3.45" fill="#d6556d"/><circle cx="278.5" cy="171.3" r="3.45" fill="#7e03a8"/><circle cx="283.5" cy="171.3" r="3.45" fill="#8f0da4"/><circle cx="287.7" cy="180.5" r="3.45" fill="#ef7e50"/><circle cx="295.4" cy="181.9" r="3.45" fill="#a11b9b"/><circle cx="302.5" cy="184.7" r="3.45" fill="#f2844b"/><circle cx="306.1" cy="189.6" r="3.45" fill="#fbd724"/><circle cx="317.8" cy="192.5" r="3.45" fill="#fb9f3a"/><circle cx="317.1" cy="196.3" r="3.45" fill="#cc4778"/><circle cx="320.6" cy="200.2" r="3.45" fill="#f58b47"/><circle cx="324.2" cy="203.0" r="3.45" fill="#fca636"/><circle cx="321.6" cy="206.5" r="3.45" fill="#fdae32"/><circle cx="327.7" cy="202.3" r="3.45" fill="#f89540"/><circle cx="330.5" cy="205.8" r="3.45" fill="#cc4778"/><circle cx="333.3" cy="207.3" r="3.45" fill="#f58b47"/><circle cx="333.7" cy="211.5" r="3.45" fill="#fbd724"/><circle cx="337.5" cy="213.6" r="3.45" fill="#b6308b"/><circle cx="339.4" cy="222.3" r="3.45" fill="#ef7e50"/><circle cx="342.4" cy="224.0" r="3.45" fill="#fbd724"/><circle cx="343.6" cy="226.5" r="3.45" fill="#fcce25"/><circle cx="347.0" cy="232.5" r="3.45" fill="#fdae32"/><circle cx="350.9" cy="234.2" r="3.45" fill="#f89540"/><circle cx="350.0" cy="241.6" r="3.45" fill="#b6308b"/><circle cx="345.7" cy="239.8" r="3.45" fill="#fca636"/><circle cx="351.8" cy="249.0" r="3.45" fill="#fcce25"/><circle cx="351.4" cy="246.1" r="3.45" fill="#f58b47"/><circle cx="359.1" cy="263.7" r="3.45" fill="#f89540"/><circle cx="356.7" cy="260.9" r="3.45" fill="#eb7655"/></g>
<rect x="36.5" y="12.5" width="353.0" height="308.5" fill="none" stroke="#8a8a8a" stroke-width="1"/>
<path d="M368.97 321.0v-3M368.97 12.5v3M348.19 321.0v-3M348.19 12.5v3M327.40 321.0v-10M327.40 12.5v10M306.62 321.0v-3M306.62 12.5v3M285.84 321.0v-3M285.84 12.5v3M265.05 321.0v-3M265.05 12.5v3M244.27 321.0v-10M244.27 12.5v10M223.48 321.0v-3M223.48 12.5v3M202.70 321.0v-3M202.70 12.5v3M181.92 321.0v-3M181.92 12.5v3M161.13 321.0v-10M161.13 12.5v10M140.35 321.0v-3M140.35 12.5v3M119.57 321.0v-3M119.57 12.5v3M98.78 321.0v-3M98.78 12.5v3M78.00 321.0v-10M78.00 12.5v10M57.22 321.0v-3M57.22 12.5v3M36.5 22.81h3M389.5 22.81h-3M36.5 33.71h3M389.5 33.71h-3M36.5 44.61h3M389.5 44.61h-3M36.5 55.50h10M389.5 55.50h-10M36.5 66.39h3M389.5 66.39h-3M36.5 77.29h3M389.5 77.29h-3M36.5 88.19h3M389.5 88.19h-3M36.5 99.08h10M389.5 99.08h-10M36.5 109.97h3M389.5 109.97h-3M36.5 120.87h3M389.5 120.87h-3M36.5 131.76h3M389.5 131.76h-3M36.5 142.66h10M389.5 142.66h-10M36.5 153.56h3M389.5 153.56h-3M36.5 164.45h3M389.5 164.45h-3M36.5 175.34h3M389.5 175.34h-3M36.5 186.24h10M389.5 186.24h-10M36.5 197.13h3M389.5 197.13h-3M36.5 208.03h3M389.5 208.03h-3M36.5 218.92h3M389.5 218.92h-3M36.5 229.82h10M389.5 229.82h-10M36.5 240.72h3M389.5 240.72h-3M36.5 251.61h3M389.5 251.61h-3M36.5 262.50h3M389.5 262.50h-3M36.5 273.40h10M389.5 273.40h-10M36.5 284.29h3M389.5 284.29h-3M36.5 295.19h3M389.5 295.19h-3M36.5 306.08h3M389.5 306.08h-3M36.5 316.98h10M389.5 316.98h-10" stroke="#8a8a8a" stroke-width="1" fill="none"/>
<text x="78.0" y="334" text-anchor="middle" font-size="13" fill="#8a8a8a">10000</text>
<text x="161.1" y="334" text-anchor="middle" font-size="13" fill="#8a8a8a">8000</text>
<text x="244.3" y="334" text-anchor="middle" font-size="13" fill="#8a8a8a">6000</text>
<text x="327.4" y="334" text-anchor="middle" font-size="13" fill="#8a8a8a">4000</text>
<text x="33.3" y="16.5" text-anchor="end" font-size="13" fill="#8a8a8a">−2</text>
<text x="33.3" y="60.1" text-anchor="end" font-size="13" fill="#8a8a8a">0</text>
<text x="33.3" y="103.7" text-anchor="end" font-size="13" fill="#8a8a8a">2</text>
<text x="33.3" y="147.3" text-anchor="end" font-size="13" fill="#8a8a8a">4</text>
<text x="33.3" y="190.8" text-anchor="end" font-size="13" fill="#8a8a8a">6</text>
<text x="33.3" y="234.4" text-anchor="end" font-size="13" fill="#8a8a8a">8</text>
<text x="33.3" y="278.0" text-anchor="end" font-size="13" fill="#8a8a8a">10</text>
<text x="33.3" y="321.6" text-anchor="end" font-size="13" fill="#8a8a8a">12</text>
<text x="186" y="351.7" font-size="16" fill="#222">T</text>
<text x="197" y="353.5" font-size="11.5" fill="#222" textLength="14" lengthAdjust="spacingAndGlyphs">eff</text>
<text x="215.3" y="351.7" font-size="16" fill="#222" textLength="24.5" lengthAdjust="spacingAndGlyphs">(K)</text>
<text transform="translate(11.5,203.8) rotate(-90)" font-size="14" fill="#222">abs.</text>
<text transform="translate(11.5,170.6) rotate(-90)" font-size="18" font-weight="bold" fill="#222" textLength="11" lengthAdjust="spacingAndGlyphs">T</text>
<text transform="translate(11.5,157.6) rotate(-90)" font-size="14" fill="#222">mag</text>
<rect x="43.5" y="274" width="122.3" height="40" fill="#fff" fill-opacity="0.8" stroke="#d8d8d8" stroke-width="1" rx="1"/>
<circle cx="62.4" cy="285" r="2.6" fill="none" stroke="#b4b4b4" stroke-width="0.8"/>
<circle cx="62.4" cy="302.9" r="3.3" fill="#1f77b4" stroke="#333" stroke-width="0.8"/>
<text x="88" y="289.4" font-size="13" fill="#222" textLength="55" lengthAdjust="spacingAndGlyphs">TOI stars</text>
<text x="88" y="306.9" font-size="13" fill="#222" textLength="72" lengthAdjust="spacingAndGlyphs">control stars</text>
<defs><linearGradient id="pl" x1="0" y1="1" x2="0" y2="0"><stop offset="0.000" stop-color="#0d0887"/><stop offset="0.050" stop-color="#2a0593"/><stop offset="0.100" stop-color="#41049d"/><stop offset="0.150" stop-color="#5601a4"/><stop offset="0.200" stop-color="#6a00a8"/><stop offset="0.250" stop-color="#7e03a8"/><stop offset="0.300" stop-color="#8f0da4"/><stop offset="0.350" stop-color="#a11b9b"/><stop offset="0.400" stop-color="#b12a90"/><stop offset="0.450" stop-color="#bf3984"/><stop offset="0.500" stop-color="#cc4778"/><stop offset="0.550" stop-color="#d6556d"/><stop offset="0.600" stop-color="#e16462"/><stop offset="0.650" stop-color="#ea7457"/><stop offset="0.700" stop-color="#f2844b"/><stop offset="0.750" stop-color="#f89540"/><stop offset="0.800" stop-color="#fca636"/><stop offset="0.850" stop-color="#feba2c"/><stop offset="0.900" stop-color="#fcce25"/><stop offset="0.950" stop-color="#f7e425"/><stop offset="1.000" stop-color="#f0f921"/></linearGradient></defs>
<rect x="447.6" y="12.4" width="15.699999999999989" height="308.40000000000003" fill="url(#pl)" stroke="#8a8a8a" stroke-width="1"/>
<path d="M447.6 25.20h10M447.6 58.10h3M447.6 91.00h3M447.6 123.90h3M447.6 156.80h10M447.6 189.70h3M447.6 222.60h3M447.6 255.50h3M447.6 288.40h10" stroke="#8a8a8a" stroke-width="1" fill="none"/>
<text x="444.3" y="29.8" text-anchor="end" font-size="13" fill="#8a8a8a">0.32</text>
<text x="444.3" y="161.4" text-anchor="end" font-size="13" fill="#8a8a8a">0.25</text>
<text x="444.3" y="293.0" text-anchor="end" font-size="13" fill="#8a8a8a">0.18</text>
<text transform="translate(414.2,220.5) rotate(-90)" font-size="14.6" fill="#222" textLength="108.5" lengthAdjust="spacingAndGlyphs">speckle fraction</text>
<path d="M548.80 321.0L548.80 316.55L563.29 316.55L563.29 307.64L577.78 307.64L577.78 298.74L592.27 298.74L592.27 231.94L606.76 231.94L606.76 218.58L621.25 218.58L621.25 209.68L635.74 209.68L635.74 165.14L650.23 165.14L650.23 27.10L664.72 27.10L664.72 227.49L679.21 227.49L679.21 285.38L693.70 285.38L693.70 321.0Z" fill="#ff0000"/>
<path d="M547.00 321.0L547.00 289.83L557.90 289.83L557.90 209.68L568.80 209.68L568.80 236.39L579.70 236.39L579.70 196.32L590.60 196.32L590.60 187.41L601.50 187.41L601.50 187.41L612.40 187.41L612.40 218.58L623.30 218.58L623.30 227.49L634.20 227.49L634.20 263.11L645.10 263.11L645.10 276.47L656.00 276.47L656.00 321.0Z" fill="#0000ff" fill-opacity="0.4"/>
<rect x="539.5" y="12.5" width="161.0" height="308.5" fill="none" stroke="#8a8a8a" stroke-width="1"/>
<path d="M547.78 321.0v-3M547.78 12.5v3M562.04 321.0v-3M562.04 12.5v3M576.30 321.0v-10M576.30 12.5v10M590.56 321.0v-3M590.56 12.5v3M604.82 321.0v-3M604.82 12.5v3M619.08 321.0v-3M619.08 12.5v3M633.34 321.0v-3M633.34 12.5v3M647.60 321.0v-10M647.60 12.5v10M661.86 321.0v-3M661.86 12.5v3M676.12 321.0v-3M676.12 12.5v3M690.38 321.0v-3M690.38 12.5v3M539.5 312.09h3M700.5 312.09h-3M539.5 303.19h3M700.5 303.19h-3M539.5 294.28h3M700.5 294.28h-3M539.5 285.38h3M700.5 285.38h-3M539.5 276.47h10M700.5 276.47h-10M539.5 267.56h3M700.5 267.56h-3M539.5 258.66h3M700.5 258.66h-3M539.5 249.75h3M700.5 249.75h-3M539.5 240.85h3M700.5 240.85h-3M539.5 231.94h10M700.5 231.94h-10M539.5 223.03h3M700.5 223.03h-3M539.5 214.13h3M700.5 214.13h-3M539.5 205.22h3M700.5 205.22h-3M539.5 196.32h3M700.5 196.32h-3M539.5 187.41h10M700.5 187.41h-10M539.5 178.50h3M700.5 178.50h-3M539.5 169.60h3M700.5 169.60h-3M539.5 160.69h3M700.5 160.69h-3M539.5 151.79h3M700.5 151.79h-3M539.5 142.88h10M700.5 142.88h-10M539.5 133.97h3M700.5 133.97h-3M539.5 125.07h3M700.5 125.07h-3M539.5 116.16h3M700.5 116.16h-3M539.5 107.26h3M700.5 107.26h-3M539.5 98.35h10M700.5 98.35h-10M539.5 89.44h3M700.5 89.44h-3M539.5 80.54h3M700.5 80.54h-3M539.5 71.63h3M700.5 71.63h-3M539.5 62.73h3M700.5 62.73h-3M539.5 53.82h10M700.5 53.82h-10M539.5 44.91h3M700.5 44.91h-3M539.5 36.01h3M700.5 36.01h-3M539.5 27.10h3M700.5 27.10h-3M539.5 18.20h3M700.5 18.20h-3" stroke="#8a8a8a" stroke-width="1" fill="none"/>
<text x="576.3" y="334" text-anchor="middle" font-size="13" fill="#8a8a8a">0.2</text>
<text x="647.6" y="334" text-anchor="middle" font-size="13" fill="#8a8a8a">0.3</text>
<text x="536.3" y="325.6" text-anchor="end" font-size="13" fill="#8a8a8a">0</text>
<text x="536.3" y="281.1" text-anchor="end" font-size="13" fill="#8a8a8a">10</text>
<text x="536.3" y="236.5" text-anchor="end" font-size="13" fill="#8a8a8a">20</text>
<text x="536.3" y="192.0" text-anchor="end" font-size="13" fill="#8a8a8a">30</text>
<text x="536.3" y="147.5" text-anchor="end" font-size="13" fill="#8a8a8a">40</text>
<text x="536.3" y="102.9" text-anchor="end" font-size="13" fill="#8a8a8a">50</text>
<text x="536.3" y="58.4" text-anchor="end" font-size="13" fill="#8a8a8a">60</text>
<text x="565.5" y="350.8" font-size="16" fill="#222" textLength="108.5" lengthAdjust="spacingAndGlyphs">speckle fraction</text>
<text transform="translate(517.8,229.5) rotate(-90)" font-size="16" fill="#222" textLength="119" lengthAdjust="spacingAndGlyphs">number of stars</text>
<rect x="546.5" y="18.8" width="93" height="40" fill="#fff" fill-opacity="0.8" stroke="#d8d8d8" stroke-width="1" rx="1"/>
<rect x="552" y="24.2" width="27.2" height="9.6" fill="#ff0000"/>
<rect x="552" y="41.7" width="27.2" height="9.4" fill="#0000ff" fill-opacity="0.4"/>
<text x="590" y="34.2" font-size="13" fill="#222" textLength="44" lengthAdjust="spacingAndGlyphs">832 nm</text>
<text x="590" y="51.5" font-size="13" fill="#222" textLength="44" lengthAdjust="spacingAndGlyphs">562 nm</text>
</svg></body></html>
